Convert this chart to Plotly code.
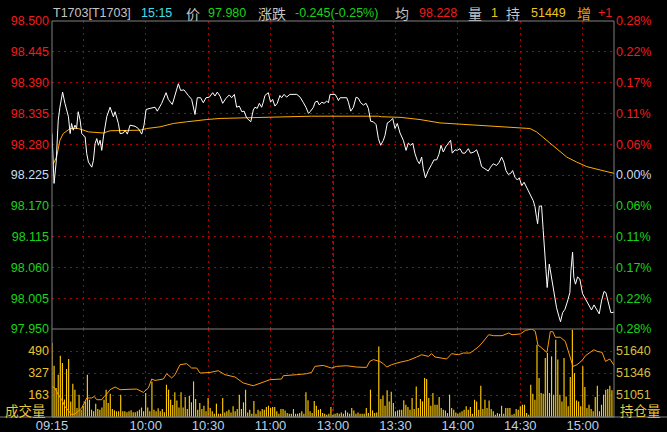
import plotly.graph_objects as go

# ---------------- data ----------------
pre_settle = 98.225

# minute index from 09:15 (0) to 15:15 (270), lunch break collapsed at 135
price_t = [0, 1, 2, 3.0, 3.8, 5.1, 6.2, 7.9, 8.7, 9.4, 10.2, 11.0, 11.8, 12.6, 13.5, 14.3, 15.9, 16.7, 17.5, 19.1,
           19.9, 20.7, 21.5, 22.3, 23.1, 23.9, 24.7, 26.3, 27.9, 29.5, 30.3, 31.9, 32.7, 34.3, 35.1, 36.2, 37.5, 39.9,
           41.5, 43.1, 44.2, 45.2, 47.1, 49.5, 50.6, 52.7, 54.8, 55.9, 57.8, 59.1, 60.7, 61.8, 63.4, 65.5, 67.1, 68.7,
           69.8, 71.4, 72.7, 74.0, 75.6, 77.2, 78.3, 79.4, 80.7, 82.0, 83.6, 85.2, 86.3, 87.6, 88.7, 90.0, 91.2, 92.3,
           93.5, 95.5, 96.7, 97.5, 98.6, 99.6, 100.7, 101.5, 102.3, 103.9, 105.0, 106.0, 107.1, 108.2, 109.5, 110.3,
           111.5, 112.7, 114.3, 117.6, 119.2, 120.8, 122.0, 123.2, 124.0, 125.6, 126.4, 127.5, 128.4, 129.6, 130.7,
           132.0, 132.8, 133.6, 136.0, 136.8, 137.6, 138.4, 141.6, 142.4, 143.5, 144.8, 146.1, 147.2, 148.3, 149.6,
           150.9, 152.0, 153.1, 154.4, 155.7, 156.8, 157.9, 159.2, 160.0, 161.1, 162.4, 163.7, 164.8, 165.9, 167.2,
           168.8, 170.1, 171.2, 172.3, 173.3, 174.4, 175.5, 176.5, 177.6, 178.4, 179.4, 180.8, 182.4, 183.5, 184.8,
           185.9, 186.9, 188.0, 189.1, 190.4, 191.5, 192.3, 193.6, 194.7, 196.0, 197.2, 198.4, 200.0, 201.1, 202.7,
           204.0, 205.3, 206.4, 208.0, 209.6, 210.7, 212.0, 213.6, 214.9, 216.0, 217.1, 218.1, 219.2, 220.4, 221.3,
           222.4, 223.6, 224.5, 225.7, 226.8, 228.0, 229.6, 231.2, 232.0, 232.8, 233.3, 234.1, 235.2, 236.0, 236.8,
           237.9, 238.9, 240.0, 241.1, 242.4, 243.5, 244.3, 245.3, 246.4, 247.7, 248.8, 249.3, 250.1, 250.7, 251.5,
           252.5, 253.6, 254.9, 256.0, 257.1, 258.1, 259.2, 260.4, 261.7, 262.9, 264.0, 265.2, 266.1, 267.2, 268.5,
           270]
price_v = [98.299, 98.210, 98.248, 98.323, 98.346, 98.373, 98.353, 98.329, 98.299, 98.317, 98.305, 98.314, 98.308,
           98.338, 98.323, 98.299, 98.293, 98.263, 98.248, 98.239, 98.251, 98.281, 98.290, 98.278, 98.287, 98.269,
           98.293, 98.329, 98.346, 98.329, 98.338, 98.317, 98.299, 98.300, 98.305, 98.298, 98.314, 98.312, 98.308,
           98.298, 98.314, 98.342, 98.344, 98.346, 98.339, 98.353, 98.372, 98.360, 98.351, 98.366, 98.388, 98.376,
           98.377, 98.367, 98.360, 98.333, 98.363, 98.363, 98.354, 98.363, 98.364, 98.372, 98.366, 98.373, 98.366,
           98.353, 98.362, 98.368, 98.363, 98.369, 98.346, 98.348, 98.338, 98.339, 98.327, 98.320, 98.341, 98.346,
           98.344, 98.353, 98.346, 98.355, 98.367, 98.372, 98.355, 98.360, 98.348, 98.353, 98.367, 98.363, 98.369,
           98.364, 98.369, 98.369, 98.364, 98.354, 98.346, 98.335, 98.338, 98.346, 98.355, 98.357, 98.350, 98.355,
           98.353, 98.357, 98.354, 98.369, 98.369, 98.364, 98.358, 98.363, 98.363, 98.355, 98.339, 98.346, 98.364,
           98.362, 98.354, 98.350, 98.353, 98.344, 98.321, 98.320, 98.315, 98.290, 98.278, 98.287, 98.296, 98.318,
           98.321, 98.326, 98.308, 98.317, 98.300, 98.287, 98.269, 98.282, 98.278, 98.282, 98.263, 98.251, 98.245,
           98.257, 98.236, 98.220, 98.233, 98.244, 98.252, 98.252, 98.262, 98.278, 98.266, 98.275, 98.282, 98.287,
           98.264, 98.270, 98.269, 98.272, 98.264, 98.264, 98.272, 98.264, 98.266, 98.270, 98.256, 98.240, 98.236,
           98.232, 98.239, 98.245, 98.242, 98.248, 98.257, 98.248, 98.233, 98.226, 98.228, 98.233, 98.221, 98.216,
           98.220, 98.206, 98.212, 98.202, 98.191, 98.179, 98.169, 98.149, 98.138, 98.169, 98.170, 98.126, 98.078,
           98.024, 98.066, 98.042, 98.012, 97.988, 97.973, 97.963, 97.979, 97.985, 98.000, 98.015, 98.054, 98.087,
           98.042, 98.030, 98.043, 98.039, 98.013, 98.006, 97.997, 97.993, 97.984, 97.993, 97.985, 97.977, 98.000,
           98.017, 98.015, 97.997, 97.979, 97.980]

avg_t = [0.6, 2.2, 3.8, 5.4, 8.7, 12.6, 15.1, 17.5, 24.7, 27.9, 42.3, 45.5, 51.9, 58.3, 64.7, 71.1, 74.3, 80.7,
         90.3, 108.7, 124.7, 156.8, 158.4, 167.2, 176.8, 186.4, 205.6, 220.0, 229.6, 232.8, 237.7, 242.4, 247.3,
         252.1, 256.9, 263.3, 270]
avg_v = [98.245, 98.257, 98.287, 98.299, 98.308, 98.308, 98.305, 98.302, 98.300, 98.304, 98.305, 98.308, 98.311,
         98.317, 98.320, 98.323, 98.324, 98.326, 98.327, 98.329, 98.330, 98.330, 98.329, 98.328, 98.324, 98.318,
         98.314, 98.311, 98.308, 98.302, 98.287, 98.272, 98.257, 98.248, 98.240, 98.234, 98.228]

oi_t = [0, 1.4, 3.0, 4.7, 6.2, 7.8, 9.5, 11.0, 12.6, 14.3, 15.5, 16.7, 19.1, 20.3, 21.5, 23.9, 25.1, 26.3, 27.9,
        30.3, 32.7, 40.7, 43.9, 46.3, 47.9, 49.5, 53.5, 55.1, 57.5,
        59.1, 61.5, 64.7, 67.1, 69.5, 71.1, 75.9, 79.9, 83.1, 87.9, 91.9, 96.7, 100.7, 104.7, 110.3, 111.1, 117.5,
        122.3, 124.7, 126.3, 130.3, 134.3, 136.7, 141.5, 146.3, 151.1, 152.7, 154.4, 157.5, 159.2, 160.8, 163.2,
        167.2, 171.2, 175.2, 177.6, 180.8, 182.4, 184.0, 189.6, 192.0, 195.2, 197.6, 200.8, 202.6, 204.8, 206.6,
        209.8, 212.2, 216.2, 219.4, 221.0, 225.0, 227.4, 230.6, 232.2, 233.4, 235.9, 237.8, 239.4, 240.6, 241.8,
        244.2, 246.6, 248.7, 250.3, 252.3, 254.7, 256.3, 258.7, 260.3, 261.9, 264.3, 265.9, 268.0, 270]
oi_v = [51166, 51145, 51055, 50988, 50898, 50841, 50787, 50797, 50831, 50877, 50944, 51011, 51011, 51032, 50988,
        50988, 51032, 51064, 51122,
        51158, 51122, 51131, 51086, 51145, 51265,
        51246, 51265, 51336, 51279, 51323, 51457, 51470, 51412, 51412, 51345, 51353, 51376, 51323, 51292, 51212,
        51175, 51220, 51256, 51265, 51309, 51323, 51336, 51353, 51434, 51447, 51412, 51434, 51443, 51425, 51420,
        51501, 51524, 51501, 51470, 51425, 51457, 51490, 51514, 51560, 51590, 51568, 51604, 51560, 51533, 51604,
        51590, 51613, 51613, 51648, 51694, 51747, 51858, 51845, 51845, 51881, 51858, 51868, 51916, 51934, 51903,
        51724, 51667, 51621, 51899, 51899, 51824, 51824, 51769, 51560, 51434, 51457, 51514, 51577, 51621, 51657,
        51635, 51621, 51501, 51533, 51449]

# per-minute volume, minutes 0..269
volume = [549, 381, 215, 314, 455, 401, 130, 356, 431, 116, 247, 203, 67, 166, 54, 84, 116, 314, 128, 54,
          42, 99, 59, 54, 70, 128, 203, 104, 173, 59, 50, 42, 42, 166, 42, 42, 35, 42, 50, 35,
          35, 42, 54, 70, 42, 178, 70, 42, 264, 54, 42, 65, 42, 59, 35, 240, 203, 128, 90, 183,
          122, 70, 183, 70, 148, 59, 158, 109, 264, 133, 54, 104,
          59, 84, 42, 141, 67, 42, 24, 99, 24, 24, 141, 34, 42, 54, 34, 79, 42, 59, 166, 59,
          109, 203, 34, 54, 24, 119, 24, 54, 42, 59, 54, 74, 84, 67, 74, 74, 42, 24, 59, 59,
          49, 29, 24, 24, 59, 24, 24, 29, 42, 24, 183, 124, 42, 29, 119, 84, 54, 59, 29, 24,
          17, 24, 74, 17, 24, 29, 24, 34, 24, 49, 34, 24, 67, 49, 24, 34, 24, 24, 24, 67,
          29, 203, 49, 29, 34, 524, 133, 158, 84, 198, 116, 188, 104, 42, 49, 54, 54, 124, 91, 74,
          54, 141, 59, 227, 67, 133, 116, 289, 282, 141, 84, 178, 91, 91, 148, 67, 54, 49, 29, 166,
          67, 54, 34, 24, 34, 42, 54, 79,
          54, 74, 24, 128, 116, 54, 232, 59, 128, 67, 123, 59, 42, 17, 29, 24, 84, 24, 67, 67,
          67, 17, 24, 59, 54, 79, 91, 91, 29, 17, 240, 173, 128, 537, 289, 178, 173, 438, 475, 178,
          450, 166, 574, 426, 166, 116, 438, 153, 79, 297, 648, 326, 123, 116, 79, 376, 222, 67, 91, 59,
          42, 148, 232, 42, 91, 166, 203, 208, 232, 198]
volume_t = list(range(len(volume)))

price_ticks = [98.500, 98.445, 98.390, 98.335, 98.280, 98.225, 98.170, 98.115, 98.060, 98.005, 97.950]
vol_ticks = [163.33, 326.67, 490.0]
vol_tick_text = ["163", "327", "490"]
oi_ticks = [51051, 51346, 51640]
time_ticks = [0, 15, 45, 75, 105, 135, 165, 195, 225, 255]
time_labels = ["09:15", "", "10:00", "10:30", "11:00", "13:00", "13:30", "14:00", "14:30", "15:00"]
lunch_idx = 135
session_len = 270

header = [  # (left pixel, text, colour key, cjk)
    (51, "T1703[T1703]", "gray", False), (139, "15:15", "cyan", False), (184, "价", "gray", True),
    (206, "97.980", "green", False), (256, "涨跌", "gray", True), (293, "-0.245(-0.25%)", "green", False),
    (393, "均", "gray", True), (417, "98.228", "red", False), (466, "量", "gray", True),
    (489, "1", "yellow", False), (504, "持", "gray", True), (529, "51449", "yellow", False),
    (575, "增", "orange", True), (596, "+1", "red", False),
]

# ---------------- styling ----------------
W, H = 667, 432
ML, MR, MT, MB = 52, 53, 21, 15
PW, PH = W - ML - MR, H - MT - MB
VOL_FRAC = 88 / PH

RED, GREEN, ZERO = "#f01c1c", "#18d418", "#c8dcf0"
COL = {"gray": "#c4c4c4", "cyan": "#3ee0f0", "green": GREEN, "red": RED, "yellow": "#f0c419", "orange": "#f0a000"}
GRID = "#b00000"
BORDER = "#808080"
FONT = "Liberation Sans, Arial, sans-serif"
CJK = "Noto Sans CJK SC, sans-serif"
DOT = "2px,4px"


def col_of(v):
    if v > pre_settle + 1e-9:
        return RED
    if v < pre_settle - 1e-9:
        return GREEN
    return ZERO


left_text = [f"<span style='color:{col_of(p)}'>{p:.3f}</span>" for p in price_ticks]
right_text = [f"<span style='color:{col_of(p)}'>{abs(p - pre_settle) / pre_settle * 100:.2f}%</span>"
              for p in price_ticks]

fig = go.Figure()
fig.add_trace(go.Bar(x=volume_t, y=volume, xaxis="x", yaxis="y2", width=0.55,
                     marker=dict(color="#ffcc00", line=dict(width=0)), hoverinfo="skip"))
fig.add_trace(go.Scatter(x=oi_t, y=oi_v, xaxis="x", yaxis="y4", mode="lines",
                         line=dict(color="#ff9a10", width=1), hoverinfo="skip"))
fig.add_trace(go.Scatter(x=avg_t, y=avg_v, xaxis="x", yaxis="y", mode="lines",
                         line=dict(color="#ffae00", width=1), hoverinfo="skip"))
fig.add_trace(go.Scatter(x=price_t, y=price_v, xaxis="x", yaxis="y", mode="lines",
                         line=dict(color="#ffffff", width=1), hoverinfo="skip"))
# dummy trace so the overlaying right price axis gets drawn
fig.add_trace(go.Scatter(x=[None], y=[None], xaxis="x", yaxis="y3", showlegend=False))

axis_common = dict(showline=False, zeroline=False, ticks="", automargin=False, fixedrange=True)

fig.update_layout(
    width=W, height=H,
    margin=dict(l=ML, r=MR, t=MT, b=MB, pad=0),
    paper_bgcolor="black", plot_bgcolor="black",
    showlegend=False, hovermode=False,
    font=dict(family=FONT, size=12.5, color="#c0c0c0"),
    xaxis=dict(domain=[0, 1], range=[0, session_len], anchor="y2", tickvals=time_ticks, ticktext=time_labels,
               showgrid=True, gridcolor=GRID, gridwidth=1, griddash=DOT, ticklabelstandoff=-1,
               tickfont=dict(color="#b8d0ea", size=13, family=FONT), **axis_common),
    yaxis=dict(domain=[VOL_FRAC, 1], range=[97.95, 98.5], anchor="x", side="left", ticklabelstandoff=2,
               tickvals=price_ticks, ticktext=left_text, showgrid=True, gridcolor=GRID, griddash=DOT,
               tickfont=dict(size=12.5, family=FONT), **axis_common),
    yaxis3=dict(overlaying="y", range=[97.95, 98.5], anchor="x", side="right", ticklabelstandoff=1,
                tickvals=price_ticks, ticktext=right_text, showgrid=False,
                tickfont=dict(size=12.5, family=FONT), **axis_common),
    yaxis2=dict(domain=[0, VOL_FRAC], range=[0, 653.33], anchor="x", side="left", ticklabelstandoff=2,
                tickvals=vol_ticks, ticktext=vol_tick_text, showgrid=True, gridcolor=GRID, griddash=DOT,
                tickfont=dict(size=12.5, color="#ecc22a", family=FONT), **axis_common),
    yaxis4=dict(overlaying="y2", range=[50756.5, 51934.5], anchor="x", side="right", ticklabelstandoff=1,
                tickvals=oi_ticks, showgrid=False, tickformat="d",
                tickfont=dict(size=12.5, color="#d6bd3c", family=FONT), **axis_common),
)

shapes = [
    # thicker session-break grid line
    dict(type="line", xref="x", yref="paper", x0=lunch_idx, x1=lunch_idx, y0=0, y1=1,
         line=dict(color=GRID, width=2, dash=DOT), layer="below"),
    # panel borders
    dict(type="rect", xref="paper", yref="paper", x0=0, x1=1, y0=0, y1=1, line=dict(color=BORDER, width=1)),
    dict(type="line", xref="paper", yref="paper", x0=0, x1=1, y0=VOL_FRAC, y1=VOL_FRAC,
         line=dict(color=BORDER, width=1)),
    dict(type="line", xref="paper", yref="paper", x0=-ML / PW, x1=(W - ML) / PW, y0=0, y1=0,
         line=dict(color=BORDER, width=1)),
]
fig.update_layout(shapes=shapes)

ann = []
for px, txt, ck, cjk in header:
    ann.append(dict(xref="paper", yref="paper", x=(px - ML) / PW, y=(PH + MT - 13) / PH,
                    xanchor="left", yanchor="middle", showarrow=False, text=txt,
                    font=dict(family=CJK if cjk else FONT, size=14 if cjk else 12.5, color=COL[ck])))
ann.append(dict(xref="paper", yref="paper", x=(25 - ML) / PW, y=(PH + MT - 410) / PH, xanchor="center",
                yanchor="middle", showarrow=False, text="成交量", borderpad=0,
                font=dict(family=CJK, size=13.5, color="#ecc93a")))
ann.append(dict(xref="paper", yref="paper", x=(640 - ML) / PW, y=(PH + MT - 410) / PH, xanchor="center",
                yanchor="middle", showarrow=False, text="持仓量", borderpad=0,
                font=dict(family=CJK, size=13.5, color="#ecc93a")))
fig.update_layout(annotations=ann)

fig.write_html("out.html", config={"displayModeBar": False, "staticPlot": True},
               post_script="document.body.style.margin='0';document.body.style.overflow='hidden';")
